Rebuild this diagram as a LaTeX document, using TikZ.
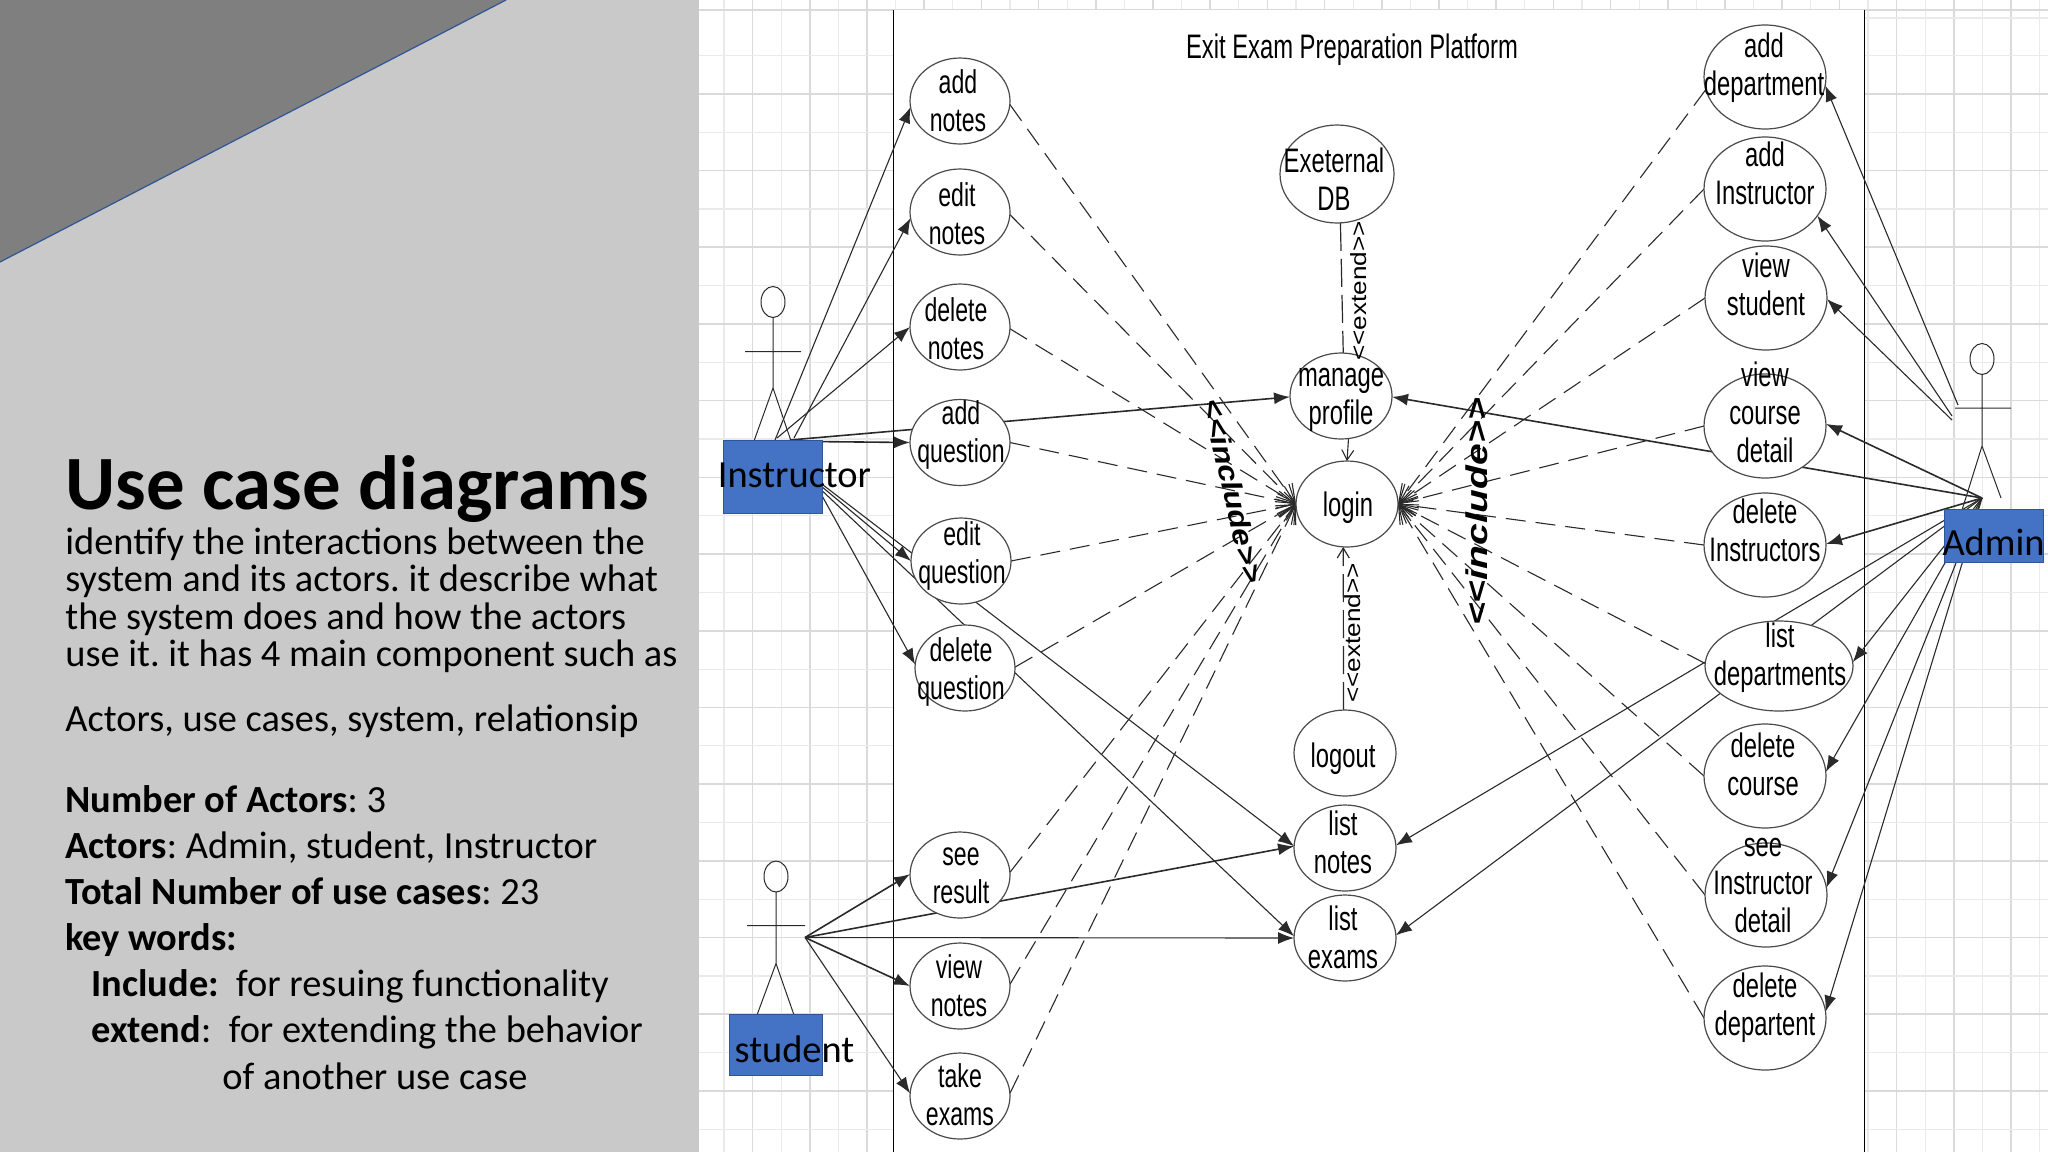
\documentclass[tikz,border=0pt]{standalone}
\usepackage{fontspec}
\usetikzlibrary{shapes.geometric,arrows.meta}
\setmainfont{Carlito}
\newfontfamily\ucfont[FakeStretch=0.70]{Liberation Sans}
\newfontfamily\incA[FakeStretch=1.15]{Liberation Sans}
\newfontfamily\incB[FakeStretch=1.3]{Liberation Sans}
\newfontfamily\extf[FakeStretch=1.19]{Liberation Sans}
\pgfdeclarelayer{bg}\pgfdeclarelayer{conn}\pgfsetlayers{bg,conn,main}
\definecolor{panel}{HTML}{C9C9C9}
\definecolor{darkp}{HTML}{7F7F7F}
\definecolor{bluel}{HTML}{2F5597}
\definecolor{blueb}{HTML}{4472C4}
\definecolor{gridS}{HTML}{DADADA}
\definecolor{gridL}{HTML}{EAEAEA}
\definecolor{ink}{HTML}{2A2A2A}
\newcommand{\uct}[3]{\makebox[0pt]{\kern#1pt\raisebox{\dimexpr#2pt/2-6.5pt\relax}[0pt][0pt]{\begin{tabular}[c]{@{}c@{}}#3\end{tabular}}}}
\newcommand{\act}[3]{\makebox[0pt]{\kern#1pt\raisebox{\dimexpr-#2pt/2\relax}[0pt][0pt]{#3}}}
\tikzset{
 ucbase/.style={ellipse,draw=ink!85,line width=.6pt,fill=white,inner sep=0pt,outer sep=0pt,text=black},
 ucl/.style={ucbase,minimum width=50pt,minimum height=43pt,font=\ucfont\fontsize{16.5}{19}\selectfont},
 ucc/.style={ucbase,minimum width=51pt,minimum height=43pt,font=\ucfont\fontsize{17}{19}\selectfont},
 ucr/.style={ucbase,minimum width=61pt,minimum height=52pt,font=\ucfont\fontsize{17}{19}\selectfont},
 ucw/.style={ucbase,minimum width=74pt,minimum height=45pt,font=\ucfont\fontsize{17}{19}\selectfont},
 assoc/.style={draw=ink,line width=.55pt,-{Latex[length=8pt,width=6pt]}},
 assocthick/.style={assoc,line width=.8pt},
 inc/.style={draw=ink,line width=.55pt,dash pattern=on 10pt off 5pt,-{Straight Barb[length=9pt,width=9pt]}},
 ext/.style={draw=ink,line width=.6pt,dash pattern=on 14pt off 4pt},
 stick/.style={draw=ink,line width=.5pt},
 head/.style={ellipse,draw=ink,line width=.5pt,inner sep=0pt,outer sep=0pt,minimum width=12pt,minimum height=15.5pt},
 actbox/.style={rectangle,fill=blueb,draw=bluel,line width=.4pt,inner sep=0pt,outer sep=0pt,text=black,font=\fontsize{19.2}{24}\selectfont},
 lt/.style={anchor=base west,inner sep=0pt,font=\fontsize{19.2}{23}\selectfont},
 gS/.style={draw=gridS,line width=.8pt},
 gL/.style={draw=gridL,line width=.6pt},
}
\frenchspacing
\begin{document}
\begin{tikzpicture}[x=0.5pt,y=-0.5pt]
\useasboundingbox (0,0) rectangle (2048,1152);
\begin{pgfonlayer}{bg}
 \fill[white] (0,0) rectangle (2048,1152);
 \foreach \k in {0,...,46}{
   \pgfmathsetmacro\xx{724+28.6*\k}
   \pgfmathparse{int(mod(\k,2))}
   \ifnum\pgfmathresult=1 \draw[gS] (\xx,0) -- (\xx,1152);\else \draw[gL] (\xx,0) -- (\xx,1152);\fi
 }
 \foreach \k in {0,...,28}{
   \pgfmathsetmacro\yy{55.5+38.35*\k}
   \pgfmathparse{int(mod(\k,2))}
   \ifnum\pgfmathresult=1 \draw[gS] (699,\yy) -- (2048,\yy);\else \draw[gL] (699,\yy) -- (2048,\yy);\fi
 }
 \draw[gL] (1864,18) -- (2048,18);
 \draw[draw=gridS,line width=1pt] (699,10) -- (2048,10);
 \fill[white] (893.5,10) rectangle (1864,1152);
 \draw[black,line width=.5pt] (893.5,10) -- (893.5,1152);
 \draw[black,line width=.5pt] (1864,10) -- (1864,1152);
 \fill[panel] (0,0) rectangle (699,1152);
 \fill[darkp] (0,0) -- (506,0) -- (0,262) -- cycle;
 \draw[bluel,line width=.6pt] (506,0) -- (0,262);
\end{pgfonlayer}

% system title
\node[inner sep=0pt,font=\ucfont\fontsize{17}{19}\selectfont] (title) at (1352,50) {Exit Exam Preparation Platform};

% use cases, left column
\node[ucl] (addnotes) at (960,101) {\uct{-2}{0}{add\\notes}};
\node[ucl] (editnotes) at (960,212) {\uct{-3}{-2}{edit\\notes}};
\node[ucl] (delnotes) at (960,327) {\uct{-4}{-2}{delete\\notes}};
\node[ucl] (addq) at (960,442.5) {\uct{1}{11}{add\\question}};
\node[ucl] (editq) at (961,561) {\uct{1}{8}{edit\\question}};
\node[ucl] (delq) at (965,668) {\uct{-4}{-1}{delete\\question}};
\node[ucl] (seer) at (960,875) {\uct{1}{2}{see\\result}};
\node[ucl] (viewn) at (960,986) {\uct{-1}{0}{view\\notes}};
\node[ucl] (takee) at (960,1096) {\uct{0}{1}{take\\exams}};
% centre column
\node[ucbase,minimum width=57pt,minimum height=49pt,font=\ucfont\fontsize{17}{19}\selectfont] (extdb) at (1337,174) {\uct{-3}{-6}{Exeternal\\DB}};
\node[ucc] (manage) at (1341,396) {\uct{0}{2}{manage\\profile}};
\node[ucc] (login) at (1347,504) {\uct{1}{-1}{login}};
\node[ucc] (logout) at (1345,753) {\uct{-2}{-3}{logout}};
\node[ucc] (listn) at (1345,848) {\uct{-2}{5}{list\\notes}};
\node[ucc] (listx) at (1345,938) {\uct{-2}{0}{list\\exams}};
% right column
\node[ucr] (adddep) at (1765,77) {\uct{-1}{12}{add\\department}};
\node[ucr] (addinst) at (1765,189) {\uct{0}{15}{add\\Instructor}};
\node[ucr] (viewstu) at (1766,298) {\uct{0}{13}{view\\student}};
\node[ucr] (viewcd) at (1765,426) {\uct{0}{13}{view\\course\\detail}};
\node[ucr] (delins) at (1765,545) {\uct{0}{14}{delete\\Instructors}};
\node[ucw] (listd) at (1779,666) {\uct{1}{11}{list\\departments}};
\node[ucr] (delc) at (1765,776) {\uct{-2}{11}{delete\\course}};
\node[ucr] (seei) at (1766,895) {\uct{-3}{12}{see\\Instructor\\detail}};
\node[ucr] (deld) at (1765,1018) {\uct{0}{13}{delete\\departent}};

% actors
\node[head] (insthead) at (773,302) {};
\coordinate (instarmL) at (745,351.5); \coordinate (instarmR) at (801,351.5);
\coordinate (instcrotch) at (773,388);
\coordinate (instlegL) at (754,441); \coordinate (instlegR) at (791,441);
\node[head] (stuhead) at (776,876.5) {};
\coordinate (stuarmL) at (747,925.6); \coordinate (stuarmR) at (805,925.6);
\coordinate (stucrotch) at (776,963.5);
\coordinate (stulegL) at (757,1015); \coordinate (stulegR) at (794,1015);
\node[head] (admhead) at (1982,359) {};
\coordinate (admarmL) at (1955,408); \coordinate (admarmR) at (2011,408);
\coordinate (admcrotch) at (1982,446);
\coordinate (admlegL) at (1962,510); \coordinate (admlegR) at (2001,498);
\draw[stick] (insthead.south) -- (instcrotch) -- (instlegL) (instcrotch) -- (instlegR) (instarmL) -- (instarmR);
\draw[stick] (stuhead.south) -- (stucrotch) -- (stulegL) (stucrotch) -- (stulegR) (stuarmL) -- (stuarmR);
\draw[stick] (admhead.south) -- (admcrotch) -- (admlegL) (admcrotch) -- (admlegR) (admarmL) -- (admarmR);

\node[actbox,minimum width=49.5pt,minimum height=36.5pt] (instbox) at (772.5,476.5) {\act{22}{11}{Instructor}};
\node[actbox,minimum width=46.5pt,minimum height=30.5pt] (stubox) at (775.5,1044.5) {\act{19}{18}{student}};
\node[actbox,minimum width=49.5pt,minimum height=26.5pt] (admbox) at (1993.5,535.5) {\act{0}{20}{Admin}};

% connector end points at the actors
\coordinate (i1) at (775,440); \coordinate (i2) at (794,438); \coordinate (i3) at (777,438);
\coordinate (i4) at (790,440); \coordinate (i5) at (810,441.5);
\coordinate (i6) at (810,475); \coordinate (i7) at (815,481); \coordinate (i8) at (815,484);
\coordinate (i9) at (815,483);
\coordinate (s0) at (805,937.5);
\coordinate (a1) at (1958,405); \coordinate (a2) at (1952,416); \coordinate (a3) at (1952,420);
\coordinate (ah) at (1982,498);

\begin{pgfonlayer}{conn}
 % instructor
 \draw[assoc] (i1) -- (addnotes.187);
 \draw[assoc] (i2) -- (editnotes.187);
 \draw[assoc] (i3) -- (delnotes.180);
 \draw[assocthick] (i4) -- (manage.181);
 \draw[assocthick] (i5) -- (addq.180);
 \draw[assoc] (i6) -- (listn.178);
 \draw[assoc] (i7) -- (editq.180);
 \draw[assoc] (i8) -- (listx.178);
 \draw[assoc] (i9) -- (delq.176);
 % student
 \draw[assocthick] (s0) -- (seer.179);
 \draw[assocthick] (s0) -- (viewn.180);
 \draw[assoc] (s0) -- (takee.177);
 \draw[assoc] (s0) -- (listx.180);
 \draw[assocthick] (s0) -- (listn.178);
 % admin
 \draw[assoc] (a1) -- (adddep.-8);
 \draw[assoc] (a2) -- (addinst.-27);
 \draw[assoc] (a3) -- (viewstu.-1);
 \draw[assocthick] (ah) -- (viewcd.2);
 \draw[assocthick] (ah) -- (manage.-1);
 \draw[assocthick] (ah) -- (delins.1);
 \draw[assoc] (ah) -- (listd.3);
 \draw[assoc] (ah) -- (delc.4);
 \draw[assoc] (ah) -- (seei.7);
 \draw[assoc] (ah) -- (deld.6);
 \draw[assoc] (ah) -- (listn.3);
 \draw[assoc] (ah) -- (listx.3);
 % include, left
 \draw[inc] (addnotes.-4) -- (login.180);
 \draw[inc] (editnotes.-3) -- (login.180);
 \draw[inc] (delnotes.-2) -- (login.180);
 \draw[inc] (addq.0) -- (login.180);
 \draw[inc] (editq.0) -- (login.180);
 \draw[inc] (delq.1) -- (login.180);
 \draw[inc] (seer.3) -- (login.180);
 \draw[inc] (viewn.2) -- (login.180);
 \draw[inc] (takee.3) -- (login.180);
 % include, right
 \draw[inc] (adddep.192) -- (login.0);
 \draw[inc] (addinst.180) -- (login.0);
 \draw[inc] (viewstu.180) -- (login.0);
 \draw[inc] (viewcd.180) -- (login.0);
 \draw[inc] (delins.180) -- (login.0);
 \draw[inc] (listd.178) -- (login.0);
 \draw[inc] (delc.180) -- (login.0);
 \draw[inc] (seei.180) -- (login.0);
 \draw[inc] (deld.180) -- (login.0);
 % extend and plain
 \draw[ext] (extdb.-86) -- (manage.87);
 \draw[ext,-{Straight Barb[length=5pt,width=6pt]}] (logout.92) -- (login.-95);
 \draw[draw=ink,line width=.55pt,-{Straight Barb[length=5pt,width=6pt]}] (manage.-80) -- (login.north);
\end{pgfonlayer}

\node[inner sep=0pt,rotate=90,font=\extf\fontsize{11}{13}\selectfont] (ext1) at (1359,291) {<{}<extend>{}>};
\node[inner sep=0pt,rotate=90,font=\extf\fontsize{11}{13}\selectfont] (ext2) at (1353,633) {<{}<extend>{}>};
\node[inner sep=0pt,rotate=-77,font=\incA\fontsize{14}{16}\bfseries\itshape\selectfont] (inc1) at (1233,491) {<{}<include>{}>};
\node[inner sep=0pt,rotate=90,font=\incB\fontsize{15}{18}\bfseries\itshape\selectfont] (inc2) at (1477,512) {<{}<include>{}>};

% slide text
\node[lt,font=\fontsize{38.4}{44}\bfseries\selectfont] (t0) at (65,509.5) {Use case diagrams};
\node[lt] (t1) at (65,554.5) {identify the interactions between the};
\node[lt] (t2) at (65,591.5) {system and its actors. it describe what};
\node[lt] (t3) at (65,629) {the system does and how the actors};
\node[lt] (t4) at (65,666) {use it. it has 4 main component such as};
\node[lt] (t5) at (65,731) {Actors, use cases, system, relationsip};
\node[lt] (t6) at (65,812) {\textbf{Number of Actors}: 3};
\node[lt] (t7) at (65,858) {\textbf{Actors}: Admin, student, Instructor};
\node[lt] (t8) at (65,904.5) {\textbf{Total Number of use cases}: 23};
\node[lt] (t9) at (65,950.5) {\textbf{key words:}};
\node[lt] (t10) at (91,996) {\textbf{Include:}\ \ for resuing functionality};
\node[lt] (t11) at (91,1042) {\textbf{extend}:\ \ for extending the behavior};
\node[lt] (t12) at (222,1089) {of another use case};
\end{tikzpicture}
\end{document}
